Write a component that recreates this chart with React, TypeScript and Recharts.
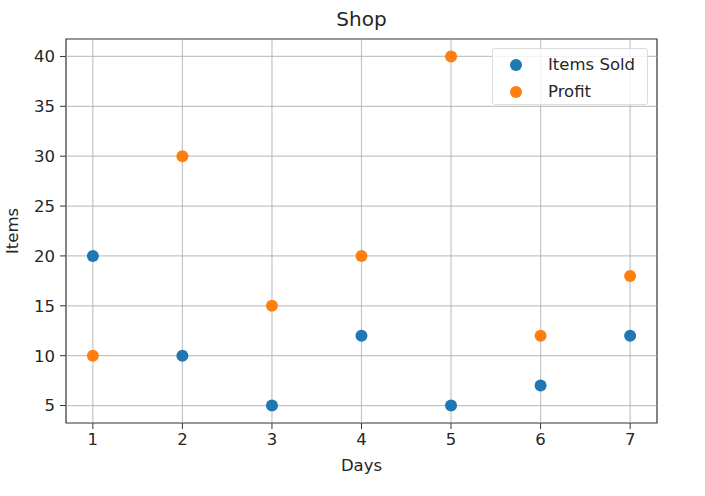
import React from "react";
import {
  ReferenceArea,
  ReferenceLine,
  Scatter,
  ScatterChart,
  XAxis,
  YAxis
} from "recharts";

const days = [1, 2, 3, 4, 5, 6, 7];
const itemsSold = [20, 10, 5, 12, 5, 7, 12];
const profit = [10, 30, 15, 20, 40, 12, 18];
const yTicks = [5, 10, 15, 20, 25, 30, 35, 40];

const COLORS = { items: "#1f77b4", profit: "#ff7f0e" };
const FONT = "'DejaVu Sans', sans-serif";
const X_DOMAIN: [number, number] = [0.7, 7.3];
const Y_DOMAIN: [number, number] = [3.25, 41.75];
const GRID = "rgba(176,176,176,0.75)";

if (typeof document !== "undefined") document.body.style.margin = "0";

const itemsData = days.map((d, i) => ({ day: d, value: itemsSold[i] }));
const profitData = days.map((d, i) => ({ day: d, value: profit[i] }));

const Dot = (props: any) => <circle cx={props.cx} cy={props.cy} r={6} fill={props.fill} />;

const tick = { fill: "#262626", fontSize: 16.5, fontFamily: FONT };

function LegendBox() {
  const rows = [
    { name: "Items Sold", color: COLORS.items },
    { name: "Profit", color: COLORS.profit }
  ];
  return (
    <div
      style={{
        position: "absolute",
        top: 48,
        left: 492,
        width: 156,
        height: 57,
        boxSizing: "border-box",
        background: "rgba(255,255,255,0.8)",
        border: "1px solid #ddd",
        borderRadius: 3,
        fontFamily: FONT,
        fontSize: 16.5,
        color: "#262626",
        paddingTop: 2
      }}
    >
      {rows.map((r) => (
        <div key={r.name} style={{ display: "flex", alignItems: "center", height: 27 }}>
          <span
            style={{
              display: "inline-block",
              width: 12,
              height: 12,
              borderRadius: 6,
              background: r.color,
              marginLeft: 17,
              marginRight: 26
            }}
          />
          {r.name}
        </div>
      ))}
    </div>
  );
}

export default function App() {
  return (
    <div style={{ position: "relative", width: 705, height: 496, background: "#fff" }}>
      <ScatterChart
        width={705}
        height={496}
        margin={{ top: 39, right: 48, bottom: 0, left: 0 }}
      >
        <XAxis
          type="number"
          dataKey="day"
          domain={X_DOMAIN}
          ticks={days}
          allowDataOverflow
          axisLine={false}
          tickLine={{ stroke: "#333" }}
          tickSize={6}
          tickMargin={4}
          tick={tick}
          height={73}
        />
        <YAxis
          type="number"
          dataKey="value"
          domain={Y_DOMAIN}
          ticks={yTicks}
          allowDataOverflow
          axisLine={false}
          tickLine={{ stroke: "#333" }}
          tickSize={6}
          tickMargin={5}
          tick={tick}
          width={66}
        />
        <Scatter data={itemsData} name="Items Sold" fill={COLORS.items} shape={Dot} isAnimationActive={false} />
        <Scatter data={profitData} name="Profit" fill={COLORS.profit} shape={Dot} isAnimationActive={false} />
        {days.map((d) => (
          <ReferenceLine key={`x${d}`} x={d} stroke={GRID} strokeWidth={1.2} />
        ))}
        {yTicks.map((v) => (
          <ReferenceLine key={`y${v}`} y={v} stroke={GRID} strokeWidth={1.2} />
        ))}
        <ReferenceArea
          x1={X_DOMAIN[0]}
          x2={X_DOMAIN[1]}
          y1={Y_DOMAIN[0]}
          y2={Y_DOMAIN[1]}
          fill="none"
          fillOpacity={0}
          stroke="#333"
          strokeWidth={1.2}
          ifOverflow="visible"
        />
      </ScatterChart>
      <div
        style={{
          position: "absolute",
          top: 7,
          left: 66,
          width: 591,
          textAlign: "center",
          fontFamily: FONT,
          fontSize: 20,
          color: "#262626"
        }}
      >
        Shop
      </div>
      <div
        style={{
          position: "absolute",
          top: 231,
          left: 12,
          transform: "translate(-50%, -50%) rotate(-90deg)",
          fontFamily: FONT,
          fontSize: 16.5,
          color: "#262626"
        }}
      >
        Items
      </div>
      <div
        style={{
          position: "absolute",
          top: 456,
          left: 66,
          width: 591,
          textAlign: "center",
          fontFamily: FONT,
          fontSize: 16.5,
          color: "#262626"
        }}
      >
        Days
      </div>
      <LegendBox />
    </div>
  );
}
